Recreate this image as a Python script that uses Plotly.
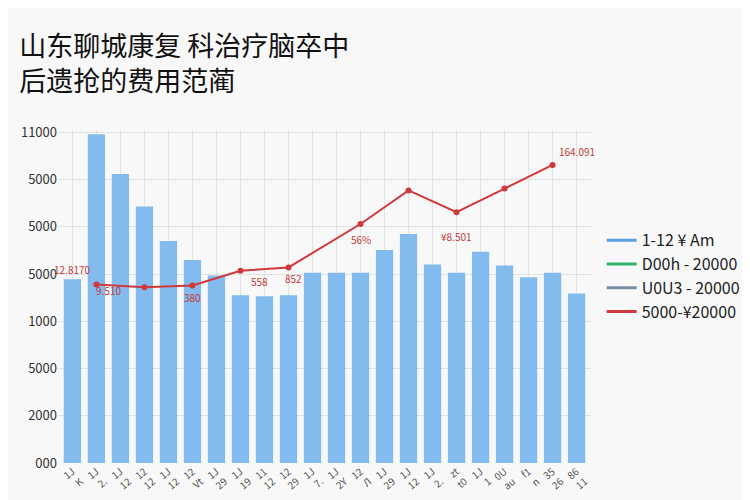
import plotly.graph_objects as go

cats = ["1J<br>K","1J<br>2.","1J<br>12","12<br>12","1J<br>12","12<br>Vt","1J<br>29","1J<br>19","11<br>12","12<br>29","1J<br>7.","1J<br>2Y","12<br>Л","1J<br>29","1J<br>12","1J<br>2.","zt<br>t0","1J<br>1","0U<br>au","f1<br>n","35<br>26","86<br>11"]
bars = [3.89,6.96,6.12,5.43,4.70,4.30,3.97,3.55,3.53,3.55,4.03,4.03,4.03,4.51,4.85,4.20,4.03,4.47,4.18,3.93,4.03,3.59]
line_idx = [1,3,5,7,9,12,14,16,18,20]
line_vals = [3.78,3.72,3.76,4.07,4.14,5.06,5.77,5.31,5.81,6.31]
ann_idx = [0,1.5,5,7.8,9.2,12,16,21]
ann_vals = [4.1,3.65,3.5,3.85,3.9,4.73,4.8,6.6]
ann_txt = ["12.8170","9.510","380","558","852","56%","¥8.501","164.091"]
ytick_vals = [0,1,2,3,4,5,6,7]
ytick_txt = ["000","2000","5000","1000","5000","5000","5000","11000"]
legend_names = ["1-12 ¥ Am","D00h - 20000","U0U3 - 20000","5000-¥20000"]
legend_colors = ["#5a9fe0","#2fb36b","#7a8ea8","#d0393c"]

x = list(range(len(cats)))
fig = go.Figure()
fig.add_bar(x=x, y=bars, marker=dict(color="#84bbee", line=dict(width=0)), width=0.72, showlegend=False)
fig.add_scatter(x=line_idx, y=line_vals, mode="lines+markers", line=dict(color="#d0393c", width=2),
                marker=dict(size=6, color="#d0393c"), showlegend=False)
for n, c in zip(legend_names, legend_colors):
    fig.add_scatter(x=[None], y=[None], mode="lines", line=dict(color=c, width=3), name=n)
for i, v, t in zip(ann_idx, ann_vals, ann_txt):
    fig.add_annotation(x=i, y=v, text=t, showarrow=False, font=dict(size=10, color="#c23a3a"))
fig.update_layout(
    width=750, height=500, paper_bgcolor="#f8f8f8", plot_bgcolor="#f8f8f8",
    margin=dict(l=50, r=150, t=122, b=45), bargap=0.25,
    title=dict(text="  山东聊城康复 科治疗脑卒中<br>后遗抢的费用范蔺", x=0.015, y=0.905, yanchor="bottom", xanchor="left",
               font=dict(family="Noto Sans CJK SC", size=27, color="#111")),
    legend=dict(x=1.02, y=0.72, font=dict(size=16, color="#222"), tracegroupgap=16, bgcolor="rgba(0,0,0,0)"),
    font=dict(family="Noto Sans CJK SC"),
)
fig.update_xaxes(tickvals=x, ticktext=cats, tickangle=-40, tickfont=dict(size=10, color="#555"),
                 showgrid=True, gridcolor="#e2e2e2", range=[-0.6, len(cats)-0.4])
fig.update_yaxes(tickvals=ytick_vals, ticktext=ytick_txt, range=[0, 7.05], tickfont=dict(size=13, color="#333"),
                 gridcolor="#e2e2e2", zeroline=False)
fig.write_html("out.html")
